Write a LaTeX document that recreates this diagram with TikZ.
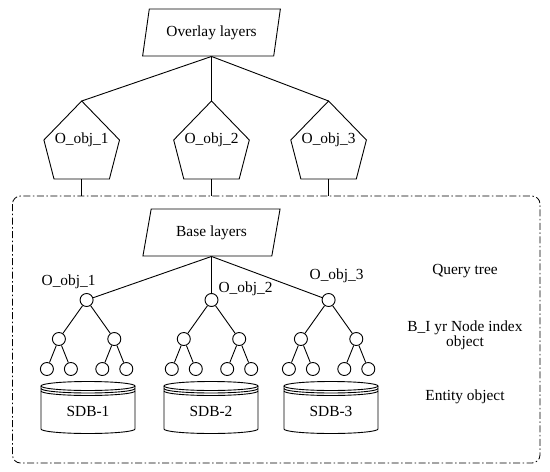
\documentclass[tikz,border=0pt]{standalone}
\usepackage{fontspec}
\setmainfont{Liberation Serif}
\usepackage{tikz}
\usetikzlibrary{shapes.geometric}
\usetikzlibrary{calc,backgrounds}
\usetikzlibrary{positioning}
\tikzstyle{layer}=[
  draw, trapezium, trapezium left angle=71, trapezium right angle=109,
  trapezium stretches=true, minimum width=138pt, minimum height=47pt,
  inner sep=0pt, line width=0.9pt
]
\tikzstyle{qnode}=[
  draw,circle,inner sep=0pt,fill=white,minimum size=13pt,line width=0.9pt
]
\tikzstyle{pentline}=[
  line width=0.9pt, line join=miter
]
\tikzstyle{link}=[
  line width=0.9pt
]
\tikzstyle{cyl}=[
  line width=0.9pt
]
\tikzstyle{basebox}=[
  line width=0.8pt, rounded corners=8pt,
  dash pattern=on 7pt off 2.5pt on 1.5pt off 2.5pt
]

\begin{document}
\begin{tikzpicture}[x=1pt,y=-1pt,font=\fontsize{15.4}{13.5}\selectfont]
    \useasboundingbox (0,0) rectangle (550,472);
    % overlay part
      \node (ovl) at (211.5,32.5) [layer] {Overlay layers};
      \foreach \i/\x in {1/81.7,2/211.5,3/328.6}{
        \node (o\i) at (\x,140) {O\_obj\_\i};
        \coordinate (o\i t) at ($(o\i) + (0,-39)$);
        \coordinate (o\i b) at ($(o\i) + (0,39)$);
        \coordinate (b\i) at (\x,196);
        \draw [pentline] (o\i t) -- ($(o\i) + (37.8,0)$) -- ($(o\i) + (27.7,39)$)
          -- ($(o\i) + (-27.7,39)$) -- ($(o\i) + (-37.8,0)$) -- cycle;
        \draw [link] (ovl.south) -- (o\i t);
        \draw [link] (o\i b) -- (b\i);
      }
    % base part
      \draw [basebox] (12.5,196) rectangle (540,463);
      \node (base) at (211.5,232.5) [layer] {Base layers};
      \foreach \i/\x in {1/86.6,2/211.5,3/328.6}{
        \node (q\i) at (\x,300) [qnode] {};
        \node (q\i a) at ($(q\i) + (-27.7,39)$) [qnode] {};
        \node (q\i b) at ($(q\i) + (27.7,39)$) [qnode] {};
        \node (q\i aa) at ($(q\i a) + (-12,30)$) [qnode] {};
        \node (q\i ab) at ($(q\i a) + (12,30)$) [qnode] {};
        \node (q\i ba) at ($(q\i b) + (-12,30)$) [qnode] {};
        \node (q\i bb) at ($(q\i b) + (12,30)$) [qnode] {};
        \draw [link] (base.south) -- (q\i);
        \draw [link] (q\i) -- (q\i a);
        \draw [link] (q\i) -- (q\i b);
        \draw [link] (q\i a) -- (q\i aa);
        \draw [link] (q\i a) -- (q\i ab);
        \draw [link] (q\i b) -- (q\i ba);
        \draw [link] (q\i b) -- (q\i bb);
      }
      \node (l1) at ($(q1) + (-18,-18)$) {O\_obj\_1};
      \node (l2) at ($(q2) + (34,-11)$) {O\_obj\_2};
      \node (l3) at ($(q3) + (8,-24)$) {O\_obj\_3};
    % entity objects
      \foreach \i/\x in {1/88,2/211,3/331}{
        \node (sdb\i) at (\x,411) {SDB-\i};
        \draw [cyl] ($(sdb\i) + (0,-25)$) ellipse [x radius=47pt, y radius=4.5pt];
        \draw [cyl] ($(sdb\i) + (-47,-22.5)$) arc [start angle=180, end angle=360, x radius=47pt, y radius=4.5pt];
        \draw [cyl] ($(sdb\i) + (-47,-20)$) arc [start angle=180, end angle=360, x radius=47pt, y radius=4.5pt];
        \draw [cyl] ($(sdb\i) + (-47,-25)$) -- ($(sdb\i) + (-47,18)$)
          arc [start angle=180, end angle=360, x radius=47pt, y radius=4.5pt] -- ($(sdb\i) + (47,-25)$);
      }
    % right side notes
      \node (qt) at (465,271) {Query tree};
      \node (bi) at (465,335) [align=center] {B\_I yr Node index\\object};
      \node (ent) at (465,397) {Entity object};
    \end{tikzpicture}
\end{document}
